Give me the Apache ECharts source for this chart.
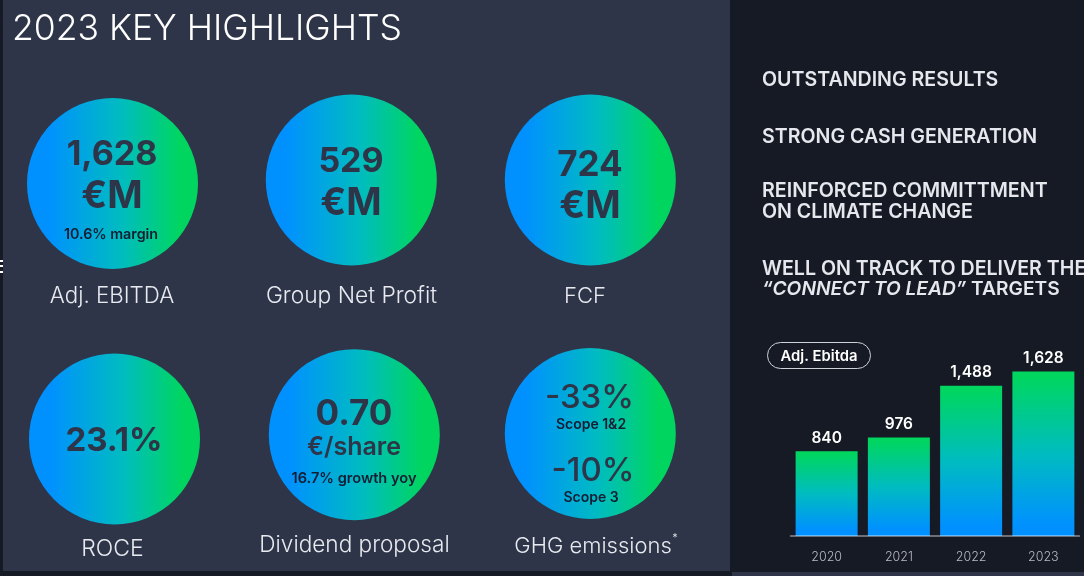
<!DOCTYPE html>
<html>
<head>
<meta charset="utf-8">
<style>html,body{margin:0;padding:0;background:#161a24}#main{width:1084px;height:576px}</style>
<script src="https://cdn.jsdelivr.net/npm/echarts@6/dist/echarts.min.js"></script>
</head>
<body>
<div id="main"></div>
<script>
var years = ['2020', '2021', '2022', '2023'];
var ebitda = [840, 976, 1488, 1628];
var kpiLabels = ['Adj. EBITDA', 'Group Net Profit', 'FCF', 'ROCE', 'Dividend proposal', 'GHG emissions'];
var messages = ['OUTSTANDING RESULTS', 'STRONG CASH GENERATION', 'REINFORCED COMMITTMENT', 'ON CLIMATE CHANGE', 'WELL ON TRACK TO DELIVER THE'];

var FONT = 'Inter';
var BLUE = '#0091ff', MID = '#00bcc0', GREEN = '#00d65f', PANEL = '#2e3549', INK = '#2e3549', DARK = '#141d33', SOFT = '#e8eaef';

var myChart = echarts.init(document.getElementById('main'));

function txt(x, y, text, size, weight, color, align, extra) {
  var style = {
    x: x, y: y + 1, text: text, fontFamily: FONT, fontSize: size, fontWeight: weight,
    fill: color, align: align || 'center', verticalAlign: 'middle'
  };
  if (extra) for (var k in extra) style[k] = extra[k];
  return { type: 'text', z: 20, style: style };
}

function circle(cx, cy) {
  return {
    type: 'circle', z: 10,
    shape: { cx: cx, cy: cy, r: 85.5 },
    style: { fill: new echarts.graphic.LinearGradient(0, 0, 1, 0, [
      { offset: 0.12, color: BLUE }, { offset: 0.55, color: MID }, { offset: 0.9, color: GREEN }
    ]) }
  };
}

var graphics = [
  { type: 'rect', z: 1, shape: { x: 3, y: 0, width: 727, height: 571 }, style: { fill: PANEL } },
  { type: 'rect', z: 1, shape: { x: 732, y: 572, width: 352, height: 4 }, style: { fill: PANEL } },
  { type: 'rect', z: 1, shape: { x: 0, y: 260, width: 3, height: 2 }, style: { fill: '#ffffff' } },
  { type: 'rect', z: 1, shape: { x: 0, y: 265, width: 3, height: 2 }, style: { fill: '#ffffff' } },
  { type: 'rect', z: 1, shape: { x: 0, y: 271, width: 3, height: 2 }, style: { fill: '#ffffff' } },
  txt(12, 28, '2023 KEY HIGHLIGHTS', 35.5, 300, '#ffffff', 'left'),

  circle(112.5, 183.5), circle(351.3, 180), circle(590.3, 180),
  circle(114.5, 439), circle(354.3, 434.7), circle(590.3, 433.5),

  txt(112, 154, '1,628', 34, 700, INK),
  txt(112, 196, '€M', 38, 700, INK),
  txt(111, 234, '10.6% margin', 14.3, 600, DARK),
  txt(351, 161, '529', 34, 700, INK),
  txt(351, 203, '€M', 38, 700, INK),
  txt(590, 164, '724', 35, 700, INK),
  txt(590, 206, '€M', 38, 700, INK),
  txt(114, 440, '23.1%', 33, 700, INK),
  txt(354, 413, '0.70', 35, 700, INK),
  txt(354, 446, '€/share', 25, 600, INK),
  txt(354, 478, '16.7% growth yoy', 14.6, 600, DARK),
  txt(589.5, 397, '-33%', 33, 500, INK),
  txt(591, 424, 'Scope 1&2', 14, 600, DARK),
  txt(593, 470, '-10%', 33, 500, INK),
  txt(591, 497, 'Scope 3', 14, 600, DARK),

  txt(112, 295, kpiLabels[0], 22.3, 300, SOFT),
  txt(351.5, 295, kpiLabels[1], 22.8, 300, SOFT),
  txt(585, 295, kpiLabels[2], 22, 300, SOFT),
  txt(112.5, 548, kpiLabels[3], 23, 300, SOFT),
  txt(354.5, 544, kpiLabels[4], 22.6, 300, SOFT),
  txt(593, 545, kpiLabels[5], 22, 300, SOFT),
  txt(675, 538, '*', 11, 300, SOFT),

  txt(762, 79, messages[0], 19.6, 600, '#e6e8ee', 'left'),
  txt(762, 136, messages[1], 19.6, 600, '#e6e8ee', 'left'),
  txt(762, 190, messages[2], 19.7, 600, '#e6e8ee', 'left'),
  txt(762, 211, messages[3], 19.6, 600, '#e6e8ee', 'left'),
  txt(762, 268, messages[4], 19.6, 600, '#e6e8ee', 'left'),
  txt(762, 288, '{i|“CONNECT TO LEAD”} TARGETS', 19.2, 600, '#e6e8ee', 'left', {
    rich: { i: { fontFamily: FONT, fontSize: 19.2, fontWeight: 600, fontStyle: 'italic', fill: '#e6e8ee' } }
  }),

  { type: 'rect', z: 20, shape: { x: 767.5, y: 342.5, width: 103, height: 26, r: 13 },
    style: { fill: 'transparent', stroke: '#cfd2d8', lineWidth: 1 } },
  txt(819, 356, 'Adj. Ebitda', 14.8, 600, '#ffffff')
];

var option = {
  backgroundColor: '#161a24',
  animation: false,
  textStyle: { fontFamily: FONT },
  graphic: graphics,
  grid: { left: 790.5, right: 4.5, top: 334, bottom: 40 },
  xAxis: {
    type: 'category',
    data: years,
    z: 5,
    axisTick: { show: false },
    axisLine: { lineStyle: { color: 'rgba(255,255,255,0.5)', width: 1.5 } },
    axisLabel: { color: '#b9bcc4', fontSize: 12.5, fontWeight: 300, margin: 15, fontFamily: FONT }
  },
  yAxis: { type: 'value', min: 0, max: 2000, show: false },
  series: [{
    type: 'bar',
    data: ebitda,
    barWidth: 62,
    z: 3,
    itemStyle: {
      color: new echarts.graphic.LinearGradient(0, 0, 0, 1, [
        { offset: 0.03, color: GREEN }, { offset: 0.5, color: MID }, { offset: 0.93, color: BLUE }
      ])
    },
    label: {
      show: true, position: 'top', distance: 5, color: '#ffffff', fontSize: 15.5, fontWeight: 600,
      fontFamily: FONT,
      formatter: function (p) { return p.value.toLocaleString('en-US'); }
    }
  }]
};
myChart.setOption(option);
</script>
</body>
</html>
